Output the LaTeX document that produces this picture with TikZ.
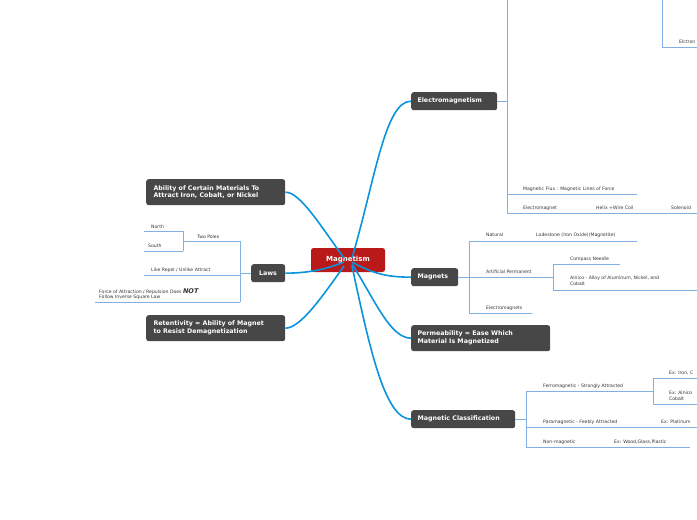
\documentclass[tikz,border=0pt]{standalone}
\usepackage{fontspec}
\setmainfont{DejaVu Sans}
\begin{document}
\begin{tikzpicture}[x=1pt,y=-1pt,
  main/.style={fill=black!72,rounded corners=2.5pt,text=white,font=\bfseries\fontsize{6.3}{7.5}\selectfont,align=left,inner sep=0pt,anchor=north west},
  lbl/.style={font=\fontsize{4.6}{5.8}\selectfont,text=black!80,anchor=west,inner sep=0pt,align=left},
  br/.style={draw=cyan!60!blue!50,line width=0.7pt},
  thick br/.style={draw=cyan!80!blue,line width=1.6pt}]
\useasboundingbox (0,0) rectangle (697,520);
\clip (0,0) rectangle (697,520);
% central
\node[fill=red!70!black!90,rounded corners=2.5pt,minimum width=74pt,minimum height=24pt,text=white,font=\bfseries\fontsize{7}{8}\selectfont] (m) at (348,260) {Magnetism};
% main boxes
\node[main,minimum width=86pt,minimum height=18pt] (em) at (411,92) {};
\node[font=\bfseries\fontsize{6.3}{7.5}\selectfont,text=white,anchor=west] at (414,101) {Electromagnetism};
\node[main,minimum width=47pt,minimum height=18pt] (mg) at (411,268) {};
\node[font=\bfseries\fontsize{6.3}{7.5}\selectfont,text=white,anchor=west] at (414,277) {Magnets};
\node[main,minimum width=139pt,minimum height=26pt] (pm) at (411,325) {};
\node[font=\bfseries\fontsize{6.3}{7.5}\selectfont,text=white,anchor=west,align=left] at (414,338) {Permeability = Ease Which\\Material Is Magnetized};
\node[main,minimum width=104pt,minimum height=18pt] (mc) at (411,410) {};
\node[font=\bfseries\fontsize{6.3}{7.5}\selectfont,text=white,anchor=west] at (414,419) {Magnetic Classification};
\node[main,minimum width=139pt,minimum height=26pt] (ab) at (146,179) {};
\node[font=\bfseries\fontsize{6.3}{7.5}\selectfont,text=white,anchor=west,align=left] at (150,192) {Ability of Certain Materials To\\Attract Iron, Cobalt, or Nickel};
\node[main,minimum width=34pt,minimum height=18pt] (lw) at (251,264) {};
\node[font=\bfseries\fontsize{6.3}{7.5}\selectfont,text=white] at (268,273) {Laws};
\node[main,minimum width=139pt,minimum height=26pt] (rt) at (146,315) {};
\node[font=\bfseries\fontsize{6.3}{7.5}\selectfont,text=white,anchor=west,align=left] at (150,328) {Retentivity = Ability of Magnet\\to Resist Demagnetization};
% thick connectors
\draw[thick br] (352,258) .. controls (375,180) and (385,101) .. (em.west);
\draw[thick br] (352,262) .. controls (375,275) and (390,277) .. (mg.west);
\draw[thick br] (352,264) .. controls (375,300) and (390,338) .. (pm.west);
\draw[thick br] (352,266) .. controls (370,350) and (385,419) .. (mc.west);
\draw[thick br] (344,258) .. controls (320,225) and (300,192) .. (ab.east);
\draw[thick br] (344,262) .. controls (320,272) and (300,273) .. (lw.east);
\draw[thick br] (344,266) .. controls (320,300) and (300,328) .. (rt.east);
% electromagnetism branch
\draw[br] (em.east|-0,101) -- (507,101);
\draw[br] (507,0) -- (507,214);
\draw[br] (662,0) -- (662,47) -- (697,47);
\node[lbl] at (679,42) {Elctron};
\node[lbl] at (523,189) {Magnetic Flux : Magnetic Lines of Force};
\draw[br] (507,194) -- (637,194);
\node[lbl] at (523,208) {Electromagnet};
\node[lbl] at (596,208) {Helix =Wire Coil};
\node[lbl] at (671,208) {Solenoid};
\draw[br] (507,213) -- (697,213);
% magnets branch
\draw[br] (458,277) -- (469,277);
\draw[br] (469,241) -- (469,313);
\node[lbl] at (486,235) {Natural};
\node[lbl] at (536,235) {Lodestone (Iron Oxide)(Magnetite)};
\draw[br] (469,241) -- (637,241);
\node[lbl] at (486,272) {Artificial Permanent};
\draw[br] (469,277) -- (553,277);
\draw[br] (553,264) -- (553,290);
\node[lbl] at (570,259) {Compass Needle};
\draw[br] (553,264) -- (620,264);
\node[lbl] at (570,281) {Alnico - Alloy of Aluminum, Nickel, and\\Cobalt};
\draw[br] (553,290) -- (697,290);
\node[lbl] at (486,308) {Electromagnets};
\draw[br] (469,313) -- (532,313);
% classification branch
\draw[br] (515,419) -- (526,419);
\draw[br] (526,391) -- (526,447);
\node[lbl] at (543,386) {Ferromagnetic - Strongly Attracted};
\draw[br] (526,391) -- (653,391);
\draw[br] (653,378) -- (653,404);
\node[lbl] at (669,373) {Ex: Iron, C};
\draw[br] (653,378) -- (697,378);
\node[lbl] at (669,396) {Ex: Alnico\\Cobalt};
\draw[br] (653,404) -- (697,404);
\node[lbl] at (543,422) {Paramagnetic - Feebly Attracted};
\node[lbl] at (661,422) {Ex: Platinum};
\draw[br] (526,427) -- (697,427);
\node[lbl] at (543,442) {Non-magnetic};
\node[lbl] at (614,442) {Ex: Wood,Glass,Plastic};
\draw[br] (526,447) -- (690,447);
% laws branch
\draw[br] (251,273) -- (240,273);
\draw[br] (240,241) -- (240,302);
\node[lbl] at (197,237) {Two Poles};
\draw[br] (183,241) -- (240,241);
\draw[br] (183,231) -- (183,251);
\node[lbl] at (151,227) {North};
\draw[br] (144,231) -- (183,231);
\node[lbl] at (148,246) {South};
\draw[br] (144,251) -- (183,251);
\node[lbl] at (151,270) {Like Repel / Unlike Attract};
\draw[br] (144,275) -- (240,275);
\node[lbl] at (99,294) {Force of Attraction / Repulsion Does {\fontsize{6.5}{6.5}\selectfont\bfseries\itshape NOT}\\Follow Inverse Square Law};
\draw[br] (95,302) -- (240,302);
\end{tikzpicture}
\end{document}
